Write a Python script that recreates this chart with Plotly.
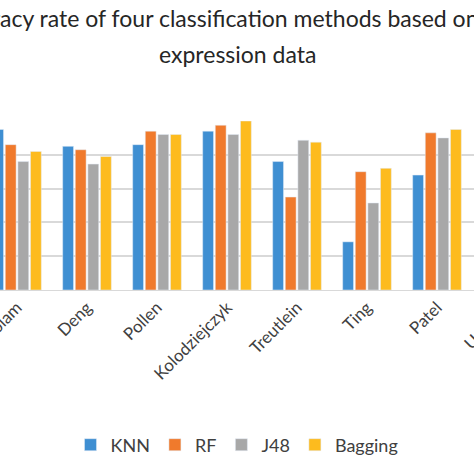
import plotly.graph_objects as go

categories = ["Goolam", "Deng", "Pollen", "Kolodziejczyk", "Treutlein", "Ting", "Patel", "Usoskin"]
knn = [0.95, 0.85, 0.86, 0.94, 0.76, 0.285, 0.68, 0.90]
rf = [0.86, 0.83, 0.94, 0.975, 0.55, 0.70, 0.93, 0.92]
j48 = [0.76, 0.745, 0.92, 0.92, 0.886, 0.515, 0.90, 0.88]
bagging = [0.82, 0.79, 0.92, 1.0, 0.875, 0.72, 0.95, 0.93]
series = [("KNN", knn, "#3F8FD2"), ("RF", rf, "#F07A2C"), ("J48", j48, "#A8A8A8"), ("Bagging", bagging, "#FDBB1E")]

L, R, T, B = 40, 10, 121, 175
PW = 560
W = L + PW + R
OFF = 58  # page shift to reproduce the cropped view

fig = go.Figure()
for name, vals, col in series:
    fig.add_trace(go.Bar(name=name, x=categories, y=vals, marker_color=col))

def px_to_paper(sx):
    return (sx + OFF - L) / PW

fig.update_layout(
    width=W, height=474, autosize=False,
    margin=dict(l=L, r=R, t=T, b=B),
    plot_bgcolor="white", paper_bgcolor="white",
    barmode="group", bargap=0.28, bargroupgap=0.14,
    font=dict(family="Lato", color="#595959"),
    xaxis=dict(tickangle=-45, tickfont=dict(size=17, color="#404040"), showline=True,
               linecolor="#d9d9d9", ticks=""),
    yaxis=dict(range=[0, 1], dtick=0.2, showgrid=True, gridcolor="#d9d9d9", gridwidth=1.5,
               showticklabels=False, zeroline=False),
    legend=dict(orientation="h", x=px_to_paper(237), xanchor="center", y=-0.917, yanchor="middle",
                font=dict(size=18, color="#404040"), traceorder="normal", itemwidth=30),
    showlegend=True,
)
fig.add_annotation(text="Accuracy rate of four classification methods based on gene",
                   xref="paper", yref="paper", x=px_to_paper(237), y=1.609, showarrow=False,
                   xanchor="center", yanchor="middle", font=dict(size=23, color="#262626"))
fig.add_annotation(text="expression data",
                   xref="paper", yref="paper", x=px_to_paper(237), y=1.396, showarrow=False,
                   xanchor="center", yanchor="middle", font=dict(size=23, color="#262626"))

fig.write_html("out.html", config={"displayModeBar": False}, post_script=(
    "document.body.style.margin='0';document.body.style.overflow='hidden';"
    "var d=document.getElementById('{plot_id}');d.style.marginLeft='-%dpx';" % OFF))
